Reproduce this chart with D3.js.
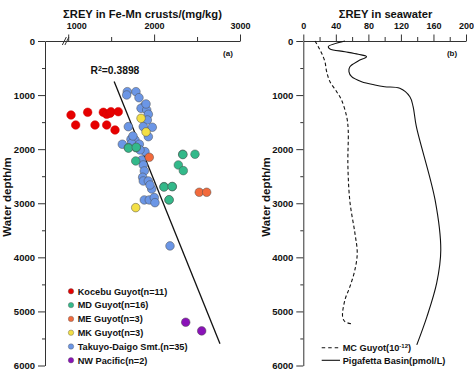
<!DOCTYPE html>
<html>
<head>
<meta charset="utf-8">
<script src="https://cdn.jsdelivr.net/npm/d3@7"></script>
<style>
  body { margin: 0; background: #fff; }
  svg text { font-family: "Liberation Sans", Arial, sans-serif; font-weight: bold; fill: #111; }
  .axis path, .axis line { stroke: #333; stroke-width: 1; }
</style>
</head>
<body>
<div id="chart"></div>
<script>
// ---- data ----
// crusts: [sumREY mg/kg, water depth m]
var kocebu = [[1033,1368],[1227,1318],[1409,1318],[1448,1355],[1487,1336],[1498,1307],
              [1583,1307],[1087,1553],[1312,1553],[1448,1553],[1545,1645]];
var mdGuyot = [[1700,1972],[1789,1972],[1786,2218],[2333,2094],[2476,2094],[2282,2292],
               [2340,2397],[2115,2693],[2212,2693],[2173,2939],[1702,1980],[1792,1965],
               [2335,2100],[2115,2700],[2210,2690],[2175,2935]];
var meGuyot = [[1944,2150],[2526,2797],[2612,2797]];
var mkGuyot = [[1848,1429],[1906,1682],[1786,3081]];
var takuyo = [[1688,937],[1681,998],[1789,937],[1824,1048],[1886,1201],[1848,1244],
              [1914,1275],[1933,1355],[1921,1460],[1700,1584],[1874,1584],[1979,1595],
              [1933,1769],[1731,1817],[1778,1830],[1739,1891],[1630,1909],[1828,1909],
              [1894,2046],[1856,2200],[1874,2292],[1886,2403],[1867,2519],[1874,2588],
              [1933,2588],[1972,2736],[1886,2939],[1944,2939],[2002,2896],[2010,2989],
              [2185,3789],[1754,1756],[1906,1164],[1836,2015],[1952,2662]];
var nwPacific = [[2368,5200],[2554,5360]];

var fitValue = [1535, 2767];
var fitDepth = [750, 5600];
var r2Label = "0.3898";

// seawater profiles: [value, depth]
var mcGuyot = [[14.4,0],[18.4,105],[22.6,227],[26.6,383],[28.7,567],[32.8,752],[41,937],
               [47,1091],[53.3,1399],[55.2,1645],[54.8,2292],[57.3,2970],[63.4,3549],
               [66.3,3919],[63.4,4233],[57.3,4542],[51.2,4787],[48.3,5096],[51.2,5189],[61.3,5237]];
var pigafetta = [[51.2,0],[30.7,105],[32.8,148],[51.2,198],[67.5,246],[77.8,290],[67.5,370],
                 [57.3,475],[56.1,567],[59.4,660],[71.7,752],[88,813],[100,845],[118.6,874],
                 [131,1030],[135,1214],[139,1584],[162,2939],[169,3863],[164,4473],
                 [152,5096],[139.5,5619]];

var depthTicks = [0,1000,2000,3000,4000,5000,6000];
var depthMinor = [500,1500,2500,3500,4500,5500];
var crustTicks = [1000,2000,3000];
var crustMinor = [1500,2500];
var seaTicks = [0,40,80,120,160,200];
var seaMinor = [20,60,100,140,180];

var groups = [
  {name: "Takuyo-Daigo Smt.(n=35)", data: takuyo, color: "#6b96e6"},
  {name: "MD Guyot(n=16)", data: mdGuyot, color: "#33b98a"},
  {name: "ME Guyot(n=3)", data: meGuyot, color: "#f26a3c"},
  {name: "MK Guyot(n=3)", data: mkGuyot, color: "#f3df45"},
  {name: "Kocebu Guyot(n=11)", data: kocebu, color: "#e60000"},
  {name: "NW Pacific(n=2)", data: nwPacific, color: "#8a12b8"}
];
var legendOrder = ["Kocebu Guyot(n=11)", "MD Guyot(n=16)", "ME Guyot(n=3)",
                   "MK Guyot(n=3)", "Takuyo-Daigo Smt.(n=35)", "NW Pacific(n=2)"];

var w = 474, h = 373;
var svg = d3.select("#chart").append("svg")
    .attr("width", w)
    .attr("height", h);

var y = d3.scaleLinear().domain([0, 6000]).range([41, 365.5]);
var x1 = d3.scaleLinear().domain([730, 3000]).range([45, 240]);
var x2 = d3.scaleLinear().domain([0, 200]).range([303.3, 466]);
var fmt = d3.format("d");

function depthAxis(xPos) {
  svg.append("g").attr("class", "axis")
      .attr("transform", "translate(" + xPos + ",0)")
      .call(d3.axisLeft(y).tickValues(depthMinor).tickSize(3).tickFormat(""))
      .select(".domain").remove();
  var g = svg.append("g").attr("class", "axis")
      .attr("transform", "translate(" + xPos + ",0)")
      .call(d3.axisLeft(y).tickValues(depthTicks).tickSize(7).tickSizeOuter(0)
            .tickPadding(3).tickFormat(fmt));
  g.selectAll("text").style("font-size", "9.5px");
}

function topAxis(scale, major, minor) {
  svg.append("g").attr("class", "axis")
      .attr("transform", "translate(0,41)")
      .call(d3.axisTop(scale).tickValues(minor).tickSize(4).tickFormat(""))
      .select(".domain").remove();
  var g = svg.append("g").attr("class", "axis")
      .attr("transform", "translate(0,41)")
      .call(d3.axisTop(scale).tickValues(major).tickSize(6.5).tickSizeOuter(0)
            .tickPadding(5.5).tickFormat(fmt));
  g.selectAll("text").style("font-size", "9px");
  return g;
}

// ---- panel (a) ----
depthAxis(45);
var ta = topAxis(x1, crustTicks, crustMinor);
ta.selectAll("text").filter(function(d) { return d === 1000; }).attr("dx", "8");

// axis break
[955, 985].forEach(function(v) {
  svg.append("line")
      .attr("x1", x1(v) - 2).attr("y1", 45)
      .attr("x2", x1(v) + 2).attr("y2", 37)
      .attr("stroke", "#333").attr("stroke-width", 1);
});

svg.append("text")
    .attr("x", 142.5).attr("y", 18)
    .attr("text-anchor", "middle")
    .style("font-size", "11.2px")
    .text("ΣREY in Fe-Mn crusts/(mg/kg)");

svg.append("text")
    .attr("x", 228).attr("y", 55.5)
    .attr("text-anchor", "middle")
    .style("font-size", "8px")
    .text("(a)");

svg.append("text")
    .attr("transform", "translate(10.5,197) rotate(-90)")
    .attr("text-anchor", "middle")
    .style("font-size", "11.5px")
    .text("Water depth/m");

svg.append("line")
    .attr("x1", x1(fitValue[0])).attr("y1", y(fitDepth[0]))
    .attr("x2", x1(fitValue[1])).attr("y2", y(fitDepth[1]))
    .attr("stroke", "#111").attr("stroke-width", 1.3);

var r2 = svg.append("text")
    .attr("x", 90.5).attr("y", 74)
    .style("font-size", "10.3px");
r2.append("tspan").text("R");
r2.append("tspan").attr("dy", "-3.5").style("font-size", "7px").text("2");
r2.append("tspan").attr("dy", "3.5").text("=" + r2Label);

groups.forEach(function(g) {
  svg.append("g").selectAll("circle")
      .data(g.data)
      .enter().append("circle")
      .attr("cx", function(d) { return x1(d[0]); })
      .attr("cy", function(d) { return y(d[1]); })
      .attr("r", 4.3)
      .attr("fill", g.color)
      .attr("stroke", g.name.indexOf("Kocebu") === 0 ? "#d00000" : "#4d4d4d")
      .attr("stroke-width", 0.5);
});

var leg = svg.append("g").attr("transform", "translate(71,291.3)");
legendOrder.forEach(function(name, i) {
  var g = groups.filter(function(e) { return e.name === name; })[0];
  var row = leg.append("g").attr("transform", "translate(0," + (i * 13.8) + ")");
  row.append("circle").attr("r", 2.7).attr("fill", g.color)
      .attr("stroke", "#555").attr("stroke-width", 0.4);
  row.append("text").attr("x", 6.7).attr("y", 3.3)
      .style("font-size", "9.2px").text(name);
});

// ---- panel (b) ----
depthAxis(303.3);
topAxis(x2, seaTicks, seaMinor);

svg.append("text")
    .attr("x", 385.5).attr("y", 18)
    .attr("text-anchor", "middle")
    .style("font-size", "11.2px")
    .text("ΣREY in seawater");

svg.append("text")
    .attr("x", 452).attr("y", 55.5)
    .attr("text-anchor", "middle")
    .style("font-size", "8px")
    .text("(b)");

svg.append("text")
    .attr("transform", "translate(269.5,197) rotate(-90)")
    .attr("text-anchor", "middle")
    .style("font-size", "11.5px")
    .text("Water depth/m");

var line = d3.line()
    .x(function(d) { return x2(d[0]); })
    .y(function(d) { return y(d[1]); })
    .curve(d3.curveCatmullRom);

svg.append("path")
    .datum(mcGuyot)
    .attr("d", line)
    .attr("fill", "none")
    .attr("stroke", "#111")
    .attr("stroke-width", 1.1)
    .attr("stroke-dasharray", "3.5,2.5");

svg.append("path")
    .datum(pigafetta)
    .attr("d", line)
    .attr("fill", "none")
    .attr("stroke", "#111")
    .attr("stroke-width", 1.1);

var leg2 = svg.append("g").attr("transform", "translate(321.7,347.7)");
leg2.append("line").attr("x1", 0).attr("x2", 18.3)
    .attr("stroke", "#111").attr("stroke-width", 1.1).attr("stroke-dasharray", "3.5,3");
var t1 = leg2.append("text").attr("x", 21).attr("y", 3.3).style("font-size", "9.2px");
t1.append("tspan").text("MC Guyot(10");
t1.append("tspan").attr("dy", "-3.5").style("font-size", "6px").text("-12");
t1.append("tspan").attr("dy", "3.5").text(")");
leg2.append("line").attr("x1", 0).attr("x2", 18.3)
    .attr("y1", 12.6).attr("y2", 12.6)
    .attr("stroke", "#111").attr("stroke-width", 1.1);
leg2.append("text").attr("x", 21).attr("y", 15.9).style("font-size", "9.2px")
    .text("Pigafetta Basin(pmol/L)");
</script>
</body>
</html>
